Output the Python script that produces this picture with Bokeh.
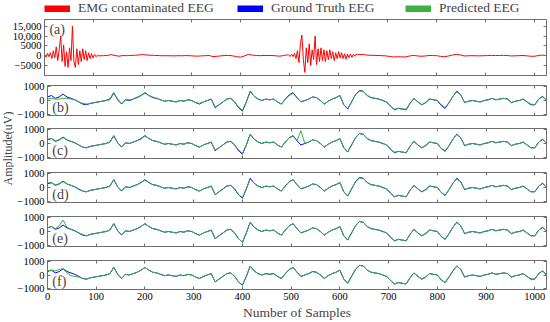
from bokeh.plotting import figure
from bokeh.models import Range1d, LinearAxis, FixedTicker, Legend, LegendItem, Label, CustomJSTickFormatter
from bokeh.layouts import column, row
from bokeh.embed import file_html
from bokeh.resources import INLINE
import math

FONT = "Liberation Serif"
RED = "#ff0000"
BLUE = "#0000ff"
GREEN = "#3cb043"
FRAME = "#6e6e6e"

# ---------------- data ----------------
samples = list(range(0, 1025, 8))

ground_truth = [
    250, 350, 150, 250, 450, 250, 150, 50, -100, -250, -300, -200, -150, -100, -50, 0,
    100, 550, 50, -250, 50, 0, 100, 200, 350, 550, 350, 200, 150, 50, -50, 0,
    -50, -100, 0, -50, 50, 0, -150, -250, -100, 0, 100, -500, -300, -100, 100, 150,
    -100, -500, -750, -100, 650, 300, 100, 0, 100, 50, 100, -100, -250, 100, 400, 550,
    200, -100, 0, 100, 250, 200, 0, -250, -50, 100, 200, 350, -300, -600, -100, 400,
    700, 650, 350, 200, 150, 100, 0, -100, -400, -650, -550, -600, -650, -200, 150, -100,
    -300, -150, 100, 50, 0, -350, -550, -150, 300, 650, 400, -150, -50, 0, -50, -100,
    0, 50, 150, 50, 100, 150, 100, -150, -50, 0, 100, -100, -300, -300, 100, 300,
    0,
]

predicted_b = [
    100, 150, 100, 100, 150, 150, 100, 50, -100, -200, -250, -200, -150, -100, -50, 0,
    50, 500, 100, -200, 50, 50, 100, 250, 350, 500, 350, 250, 150, 50, -50, 0,
    -50, -100, 0, -50, 50, 0, -150, -200, -100, 0, 100, -450, -300, -100, 100, 150,
    -100, -450, -700, -100, 600, 300, 100, 0, 100, 50, 100, -100, -250, 100, 350, 500,
    200, -100, 0, 100, 250, 200, 0, -250, -50, 100, 200, 350, -300, -550, -100, 400,
    650, 650, 350, 200, 150, 100, 0, -100, -400, -600, -550, -600, -600, -200, 150, -100,
    -300, -150, 100, 50, 0, -300, -500, -150, 300, 600, 400, -150, -50, 0, -50, -100,
    0, 50, 150, 50, 100, 150, 100, -150, -50, 0, 100, -100, -250, -300, 100, 250,
    0,
]

predicted_c = [
    300, 350, 200, 250, 400, 250, 150, 50, -100, -250, -300, -200, -150, -100, -50, 0,
    100, 500, 50, -250, 50, 0, 100, 200, 300, 550, 350, 200, 150, 50, -50, 0,
    -50, -100, 0, -50, 50, 0, -150, -250, -100, 0, 100, -450, -300, -100, 100, 150,
    -100, -450, -700, -100, 650, 300, 100, 0, 100, 50, 100, -100, -250, 100, 400, 500,
    200, 900, 0, 100, 250, 200, 0, -250, -50, 100, 200, 350, -300, -600, -100, 400,
    700, 650, 350, 200, 150, 100, 0, -100, -400, -600, -550, -600, -650, -200, 150, -100,
    -300, -150, 100, 50, 0, -350, -500, -150, 300, 650, 400, -150, -50, 0, -50, -100,
    0, 50, 150, 50, 100, 150, 100, -150, -50, 0, 100, -100, -300, -300, 100, 300,
    0,
]

predicted_d = [
    350, 300, 200, 250, 400, 250, 150, 50, -150, -250, -300, -200, -150, -100, -50, 0,
    100, 550, 50, -250, 50, 0, 100, 200, 350, 500, 350, 200, 150, 50, -50, 0,
    -50, -100, 0, -50, 50, 0, -150, -250, -100, 0, 100, -500, -300, -100, 100, 150,
    -100, -500, -700, -100, 600, 300, 100, 0, 100, 50, 100, -100, -250, 100, 400, 550,
    200, -100, 0, 100, 250, 200, 0, -250, -50, 100, 200, 350, -300, -600, -100, 400,
    650, 650, 350, 200, 150, 100, 0, -100, -400, -650, -550, -600, -650, -200, 150, -100,
    -300, -150, 100, 50, 0, -350, -550, -150, 300, 600, 400, -150, -50, 0, -50, -100,
    0, 50, 150, 50, 100, 150, 100, -150, -50, 0, 100, -100, -300, -300, 100, 300,
    0,
]

predicted_e = [
    250, 350, 200, 400, 800, 300, 150, 50, -100, -200, -300, -200, -150, -100, -50, 0,
    100, 550, 50, -250, 50, 0, 100, 200, 350, 550, 350, 200, 150, 50, -50, 0,
    -50, -100, 0, -50, 50, 0, -150, -250, -100, 0, 100, -500, -300, -100, 100, 150,
    -100, -500, -750, -100, 650, 300, 100, 0, 100, 50, 100, -100, -250, 100, 400, 550,
    200, -100, 0, 100, 250, 200, 0, -250, -50, 100, 200, 350, -300, -600, -100, 400,
    700, 650, 350, 200, 150, 100, 0, -100, -400, -650, -550, -600, -650, -200, 150, -100,
    -300, -150, 100, 50, 0, -350, -550, -150, 300, 650, 400, -150, -50, 0, -50, -100,
    0, 50, 150, 50, 100, 150, 100, -150, -50, 0, 100, -100, -300, -300, 100, 300,
    0,
]

predicted_f = [
    300, 350, 300, 400, 450, 150, -50, -100, -150, -250, -300, -200, -150, -100, -50, 0,
    100, 550, 50, -250, 50, 0, 100, 200, 350, 550, 350, 200, 150, 50, -50, 0,
    -50, -100, 0, -50, 50, 0, -150, -250, -100, 0, 100, -500, -300, -100, 100, 150,
    -100, -500, -700, -100, 650, 300, 100, 0, 100, 50, 100, -100, -250, 100, 400, 550,
    200, -100, 0, 100, 250, 200, 0, -250, -50, 100, 200, 350, -300, -600, -100, 400,
    700, 650, 350, 200, 150, 100, 0, -100, -400, -650, -550, -600, -650, -200, 150, -100,
    -300, -150, 100, 50, 0, -350, -550, -150, 300, 650, 400, -150, -50, 0, -50, -100,
    0, 50, 150, 50, 100, 150, 100, -150, -50, 0, 100, -100, -300, -300, 100, 300,
    0,
]

# EMG contaminated EEG (panel a): dense where the EMG bursts are
emg_burst1_x = list(range(0, 112, 3))
emg_burst1 = [
    300, -800, 1200, -500, 1500, -1500, 2500, -1000, 4500, -2500,
    3000, 10000, -3000, 5500, -5500, 2000, -6000, 4000, -2500, 15000,
    -3000, -6000, 3500, -4500, 2500, -3000, 3500, -2000, 2500, -2500,
    1500, -1500, 1000, -1200, 600, -500, 200, -100,
]
emg_quiet1_x = list(range(120, 497, 8))
emg_quiet1 = [
    0, 100, 550, 50, -250, 50, 0, 100, 200, 350, 550, 350, 200, 150, 50, -50,
    0, -50, -100, 0, -50, 50, 0, -150, -250, -100, 0, 100, -500, -300, -100, 100,
    150, -100, -500, -750, -100, 650, 300, 100, 0, 100, 50, 100, -100, -250, 100, 400,
]
emg_burst2_x = list(range(498, 643, 3))
emg_burst2 = [
    300, -400, 700, -500, 1200, -1500, 2500, -3500, 6000, 10500,
    -2000, -8500, 4000, -3500, 6000, -5000, 3000, -2000, 10000, -4500,
    3500, -3000, 4000, -2500, 3000, -3000, 2500, -2000, 3000, -1500,
    2000, -2500, 1500, -1500, 2000, -1200, 1500, -1500, 1000, -1800,
    800, -1000, 900, -900, 700, -300, 800, 500, 600,
]
emg_quiet2_x = list(range(648, 1025, 8))
emg_quiet2 = [
    650, 350, 200, 150, 100, 0, -100, -400, -650, -550, -600, -650, -200, 150, -100, -300,
    -150, 100, 50, 0, -350, -550, -150, 300, 650, 400, -150, -50, 0, -50, -100, 0,
    50, 150, 50, 100, 150, 100, -150, -50, 0, 100, -100, -300, -300, 100, 300, 0,
]

x_ticks = [0, 100, 200, 300, 400, 500, 600, 700, 800, 900, 1000]
x_tick_labels = ["0", "100", "200", "300", "400", "500", "600", "700", "800", "900", "1000"]
a_ticks = [-5000, 0, 5000, 10000, 15000]
a_tick_labels = ["\u22125000", "0", "5000", "10,000", "15,000"]
eeg_ticks = [-1000, 0, 1000]
eeg_tick_labels = ["\u22121000", "0", "1000"]
panel_tags = ["(a)", "(b)", "(c)", "(d)", "(e)", "(f)"]
legend_labels = ["EMG contaminated EEG", "Ground Truth EEG", "Predicted EEG"]
legend_colors = [RED, BLUE, GREEN]

emg_x = emg_burst1_x + emg_quiet1_x + emg_burst2_x + emg_quiet2_x
emg_y = emg_burst1 + emg_quiet1 + emg_burst2 + emg_quiet2
predictions = [predicted_b, predicted_c, predicted_d, predicted_e, predicted_f]

# ---------------- helpers ----------------
x_range = Range1d(0, 1024)
TICK_FS = "10.5px"


def make_axis(ticks, labels=None, fs=TICK_FS):
    ax = LinearAxis(ticker=FixedTicker(ticks=ticks))
    ax.axis_line_color = None
    ax.major_tick_in = 3
    ax.major_tick_out = 0
    ax.major_tick_line_color = FRAME
    ax.minor_tick_line_color = None
    if labels is not None:
        ax.major_label_overrides = {t: l for t, l in zip(ticks, labels)}
        ax.major_label_text_font = FONT
        ax.major_label_text_font_size = fs
        ax.major_label_text_color = "black"
        ax.major_label_standoff = 3
    else:
        ax.formatter = CustomJSTickFormatter(code="return '';")
        ax.major_label_standoff = 0
    return ax


def make_panel(width, height, left, top, bottom, yr, yticks, ylabels, xlabels):
    p = figure(width=width, height=height, x_range=x_range, y_range=yr,
               output_backend="svg", toolbar_location=None,
               x_axis_location=None, y_axis_location=None,
               min_border_left=left, min_border_right=4,
               min_border_top=top, min_border_bottom=bottom)
    p.grid.visible = False
    p.outline_line_color = FRAME
    p.outline_line_width = 1
    p.background_fill_color = "white"
    p.border_fill_color = "white"
    p.add_layout(make_axis(yticks, ylabels), "left")
    p.add_layout(make_axis(yticks), "right")
    p.add_layout(make_axis(x_ticks), "above")
    bax = make_axis(x_ticks, x_tick_labels if xlabels else None)
    if xlabels:
        bax.major_label_standoff = 3
        bax.axis_label = "Number of Samples"
        bax.axis_label_text_font = FONT
        bax.axis_label_text_font_size = "13.5px"
        bax.axis_label_text_font_style = "normal"
        bax.axis_label_standoff = 2
    p.add_layout(bax, "below")
    return p


# ---------------- legend strip ----------------
pl = figure(width=550, height=18, output_backend="svg", toolbar_location=None,
            x_axis_location=None, y_axis_location=None,
            x_range=Range1d(0, 1), y_range=Range1d(0, 1),
            min_border_left=44, min_border_right=4, min_border_top=0, min_border_bottom=0)
pl.outline_line_color = None
pl.grid.visible = False
legend_offsets = [0, 193, 361]
for lbl, col, off in zip(legend_labels, legend_colors, legend_offsets):
    # swatch renderer kept outside the visible range; only its legend entry shows
    sw = pl.line([-2, -1], [-2, -2], line_color=col, line_width=7)
    lg = Legend(items=[LegendItem(label=lbl, renderers=[sw])],
                location=(off, 2), orientation="horizontal",
                glyph_width=26, glyph_height=7, label_standoff=8, spacing=0,
                label_height=12, label_width=10,
                padding=0, margin=0, border_line_color=None,
                background_fill_alpha=0, label_text_font=FONT,
                label_text_font_size="13.5px", label_text_line_height=0.9)
    pl.add_layout(lg)

# ---------------- panel (a) ----------------
pa = make_panel(550, 60, 44, 1, 3, Range1d(-10090, 18410), a_ticks, a_tick_labels, False)
pa.line(emg_x, emg_y, line_color=RED, line_width=1)
pa.add_layout(Label(x=10, y=13300, text=panel_tags[0], text_font=FONT,
                    text_font_size="14px", text_baseline="middle", text_align="left"))

# ---------------- panels (b)-(f) ----------------
heights = [44, 43, 44, 44, 69]
tops = [7, 6, 7, 7, 7]
bottoms = [7, 7, 7, 7, 32]
panels = []
for i in range(5):
    p = make_panel(536, heights[i], 30, tops[i], bottoms[i], Range1d(-1050, 1050),
                   eeg_ticks, eeg_tick_labels, i == 4)
    p.line(samples, ground_truth, line_color=BLUE, line_width=1)
    p.line(samples, predictions[i], line_color=GREEN, line_width=1)
    p.add_layout(Label(x=10, y=-470, text=panel_tags[i + 1], text_font=FONT,
                       text_font_size="14px", text_baseline="middle", text_align="left"))
    panels.append(p)

# y-axis title spanning the lower panels
lab = figure(width=14, height=244, output_backend="svg", toolbar_location=None,
             x_axis_location=None, y_axis_location=None,
             x_range=Range1d(0, 14), y_range=Range1d(0, 244),
             min_border_left=0, min_border_right=0, min_border_top=0, min_border_bottom=0)
lab.outline_line_color = None
lab.grid.visible = False
lab.add_layout(Label(x=7, y=174, text="Amplitude(uV)", angle=math.pi / 2,
                     text_font=FONT, text_font_size="12px",
                     text_align="center", text_baseline="middle"))

root = column(pl, pa, row(lab, column(*panels, spacing=0), spacing=0), spacing=0)

open("out.html", "w").write(file_html(root, INLINE))
